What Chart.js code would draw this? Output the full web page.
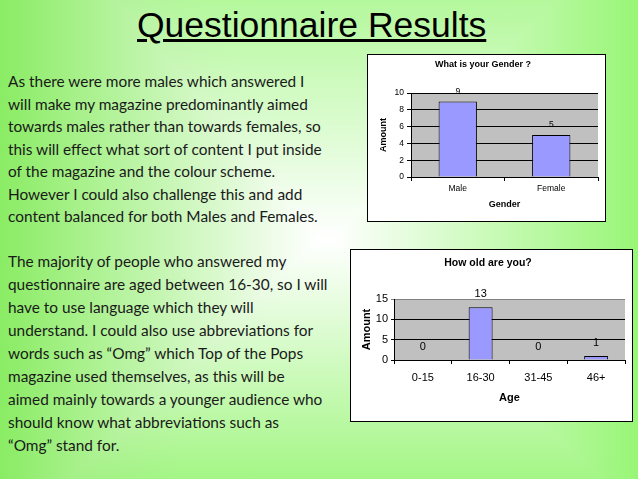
<!DOCTYPE html>
<html>
<head>
<meta charset="utf-8">
<script src="https://cdn.jsdelivr.net/npm/chart.js@4.4.0/dist/chart.umd.min.js"></script>
<style>
  html, body { margin: 0; padding: 0; }
  body {
    width: 638px; height: 479px; overflow: hidden; position: relative;
    background-image:
      linear-gradient(to right, #8aec64 0%, #ffffff 50%, #ffffff 52%, #98f676 100%),
      linear-gradient(to bottom, #b4f89c 0%, #ffffff 50%, #a4f686 100%);
    background-blend-mode: darken;
  }
  #title {
    position: absolute; left: 137px; top: 8px;
    font: 35.5px/1 "Liberation Sans", Arial, sans-serif;
    text-decoration: underline; color: #000; white-space: nowrap;
  }
  .para {
    position: absolute; left: 8px;
    font-family: Lato, "Open Sans", sans-serif; font-size: 15.4px;
    color: #1a1a1a; white-space: nowrap;
  }
  #p1 { top: 70px; line-height: 22.5px; }
  #p2 { top: 250px; line-height: 23px; }
  .box {
    position: absolute; background: #fff; border: 1px solid #000; box-sizing: border-box;
  }
  #box1 { left: 367px; top: 54px; width: 239px; height: 168px; }
  #box2 { left: 350px; top: 249px; width: 283px; height: 173px; }
  .box canvas { position: absolute; left: 0; top: 0; }
</style>
</head>
<body>
<div id="title">Questionnaire Results</div>
<div class="para" id="p1">As there were more males which answered I<br>will make my magazine predominantly aimed<br>towards males rather than towards females, so<br>this will effect what sort of content I put inside<br>of the magazine and the colour scheme.<br>However I could also challenge this and add<br>content balanced for both Males and Females.</div>
<div class="para" id="p2">The majority of people who answered my<br>questionnaire are aged between 16-30, so I will<br>have to use language which they will<br>understand. I could also use abbreviations for<br>words such as “Omg” which Top of the Pops<br>magazine used themselves, as this will be<br>aimed mainly towards a younger audience who<br>should know what abbreviations such as<br>“Omg” stand for.</div>
<div class="box" id="box1"><div style="position:absolute;left:0;top:0;width:237px;height:166px"><canvas id="genderChart"></canvas></div></div>
<div class="box" id="box2"><div style="position:absolute;left:0;top:0;width:281px;height:171px"><canvas id="ageChart"></canvas></div></div>
<script>
// chart data
const genderLabels = ['Male', 'Female'];
const genderCounts = [9, 5];
const genderMax = 10;
const genderStep = 2;

const ageLabels = ['0-15', '16-30', '31-45', '46+'];
const ageCounts = [0, 13, 0, 1];
const ageMax = 15;
const ageStep = 5;

const barFill = '#9999ff';
const plotGray = '#c0c0c0';

// gray plot background
const plotBg = {
    id: 'plotBg',
    beforeDraw(chart) {
        const a = chart.chartArea;
        const ctx = chart.ctx;
        ctx.save();
        ctx.fillStyle = plotGray;
        ctx.fillRect(a.left, a.top, a.right - a.left, a.bottom - a.top);
        ctx.restore();
    }
};

// value labels above each bar
const valueLabels = {
    id: 'valueLabels',
    afterDatasetsDraw(chart, args, opts) {
        const ctx = chart.ctx;
        const meta = chart.getDatasetMeta(0);
        ctx.save();
        ctx.font = opts.font;
        ctx.fillStyle = '#000';
        ctx.textAlign = 'center';
        ctx.textBaseline = 'middle';
        meta.data.forEach(function (bar, i) {
            ctx.fillText(String(chart.data.datasets[0].data[i]), bar.x, bar.y - opts.offset);
        });
        ctx.restore();
    }
};

Chart.defaults.color = '#000';
Chart.defaults.animation = false;

const arial = 'Liberation Sans, Arial';

new Chart(document.getElementById('genderChart'), {
    type: 'bar',
    data: {
        labels: genderLabels,
        datasets: [{
            data: genderCounts,
            backgroundColor: barFill,
            borderColor: '#000',
            borderWidth: 1,
            categoryPercentage: 1,
            barPercentage: 0.41
        }]
    },
    options: {
        responsive: true,
        maintainAspectRatio: false,
        layout: { padding: { left: 0, right: 7, top: 0, bottom: 0 } },
        plugins: {
            legend: { display: false },
            tooltip: { enabled: false },
            title: {
                display: true,
                text: 'What is your Gender ?',
                font: { family: arial, size: 9, weight: 'bold' },
                padding: { top: 4.6, bottom: 22.6 }
            },
            valueLabels: { font: '8.5px "Liberation Sans", Arial', offset: 10 }
        },
        scales: {
            x: {
                offset: true,
                afterFit(scale) { scale.height = 44; },
                grid: { offset: true, drawOnChartArea: false, color: '#000', tickLength: 4 },
                border: { color: '#000' },
                ticks: { font: { family: arial, size: 8.5 }, padding: 3 },
                title: {
                    display: true, text: 'Gender',
                    font: { family: arial, size: 9, weight: 'bold' },
                    padding: { top: 0, bottom: 10.6 }
                }
            },
            y: {
                min: 0, max: genderMax,
                afterFit(scale) { scale.width = 43; },
                grid: { color: '#000', tickLength: 4 },
                border: { color: '#000' },
                ticks: { stepSize: genderStep, font: { family: arial, size: 8.5 }, padding: 3 },
                title: {
                    display: true, text: 'Amount',
                    font: { family: arial, size: 9, weight: 'bold' },
                    padding: { top: 10.6, bottom: 0 }
                }
            }
        }
    },
    plugins: [plotBg, valueLabels]
});

const narrow = 'Liberation Sans Narrow, Arial Narrow, Liberation Sans';

new Chart(document.getElementById('ageChart'), {
    type: 'bar',
    data: {
        labels: ageLabels,
        datasets: [{
            data: ageCounts,
            backgroundColor: barFill,
            borderColor: '#000',
            borderWidth: 1,
            categoryPercentage: 1,
            barPercentage: 0.415
        }]
    },
    options: {
        responsive: true,
        maintainAspectRatio: false,
        layout: { padding: { left: 0, right: 7, top: 0, bottom: 0 } },
        plugins: {
            legend: { display: false },
            tooltip: { enabled: false },
            title: {
                display: true,
                text: 'How old are you?',
                font: { family: narrow, size: 10.5, weight: 'bold' },
                padding: { top: 6.7, bottom: 29.7 }
            },
            valueLabels: { font: '11px "Liberation Sans Narrow", "Arial Narrow", "Liberation Sans"', offset: 13 }
        },
        scales: {
            x: {
                offset: true,
                afterFit(scale) { scale.height = 61; },
                grid: { offset: true, drawOnChartArea: false, color: '#000', tickLength: 4 },
                border: { color: '#000' },
                ticks: { font: { family: narrow, size: 11 }, padding: 7 },
                title: {
                    display: true, text: 'Age',
                    font: { family: narrow, size: 11, weight: 'bold' },
                    padding: { top: 0, bottom: 16.4 }
                }
            },
            y: {
                min: 0, max: ageMax,
                afterFit(scale) { scale.width = 43; },
                grid: {
                    color: function (c) { return c.tick && c.tick.value === ageMax ? '#808080' : '#000'; },
                    tickLength: 3
                },
                border: { color: '#000' },
                ticks: { stepSize: ageStep, font: { family: narrow, size: 11 }, padding: 3 },
                title: {
                    display: true, text: 'Amount',
                    font: { family: narrow, size: 11, weight: 'bold' },
                    padding: { top: 9.4, bottom: 0 }
                }
            }
        }
    },
    plugins: [plotBg, valueLabels]
});
</script>
</body>
</html>
